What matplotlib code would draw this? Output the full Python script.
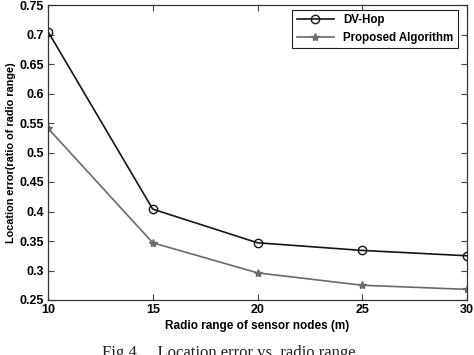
import numpy as np
import matplotlib
matplotlib.use("Agg")
import matplotlib.pyplot as plt
from matplotlib.pyplot import MultipleLocator

radio_range = [10, 15, 20, 25, 30]
dv_hop = [0.705, 0.404, 0.347, 0.334, 0.325]
proposed = [0.541, 0.347, 0.296, 0.275, 0.268]
ytick_labels = ['0.25', '0.3', '0.35', '0.4', '0.45', '0.5', '0.55',
                '0.6', '0.65', '0.7', '0.75']

plt.rcParams['font.family'] = ['Liberation Sans', 'DejaVu Sans']
plt.rcParams['font.weight'] = 'bold'

fig = plt.figure(figsize=(4.74, 3.55), dpi=100)
ax1 = fig.add_axes([48/474, 55/355, 419/474, 295/355])

ax1.plot(radio_range, dv_hop, color="#151515", lw=1.2, marker='o', ms=6,
         mfc='none', mec="#151515", mew=1.0, label='DV-Hop')
ax1.plot(radio_range, proposed, color="#6a6a6a", lw=1.2, marker='*', ms=6,
         mfc="#6a6a6a", mec="#6a6a6a", label='Proposed Algorithm')

ax1.set_xlim(10, 30)
ax1.set_ylim(0.25, 0.75)
ax1.xaxis.set_major_locator(MultipleLocator(5))
ax1.set_yticks(np.arange(0.25, 0.7501, 0.05))
ax1.set_yticklabels(ytick_labels)
ax1.tick_params(direction='in', top=True, right=True, labelsize=9, length=4,
                width=0.8, color="#444444", pad=3)
for lab in ax1.get_xticklabels() + ax1.get_yticklabels():
    lab.set_fontweight('bold')

for s in ax1.spines.values():
    s.set_linewidth(0.9)
    s.set_color("#333333")

ax1.set_xlabel("Radio range of sensor nodes (m)", fontsize=8.5, fontweight='bold', labelpad=3)
ax1.set_ylabel("Location error(ratio of radio range)", fontsize=7.8, fontweight='bold', labelpad=2)

leg = ax1.legend(loc="upper right", fontsize=8.3, fancybox=False, framealpha=1,
                 edgecolor="#222222", handlelength=3.2, borderpad=0.4,
                 labelspacing=0.45, bbox_to_anchor=(0.992, 1.003))
leg.get_frame().set_linewidth(0.8)
for t in leg.get_texts():
    t.set_fontweight('bold')

# caption, cut at the bottom edge like the scanned figure
fig.text(102/474, -2/355, "Fig.4     Location error vs. radio range",
         fontsize=12, family=['Liberation Serif', 'DejaVu Serif'],
         fontweight='normal', va='baseline', ha='left', color="#222222")

fig.savefig("out.png", dpi=100)
